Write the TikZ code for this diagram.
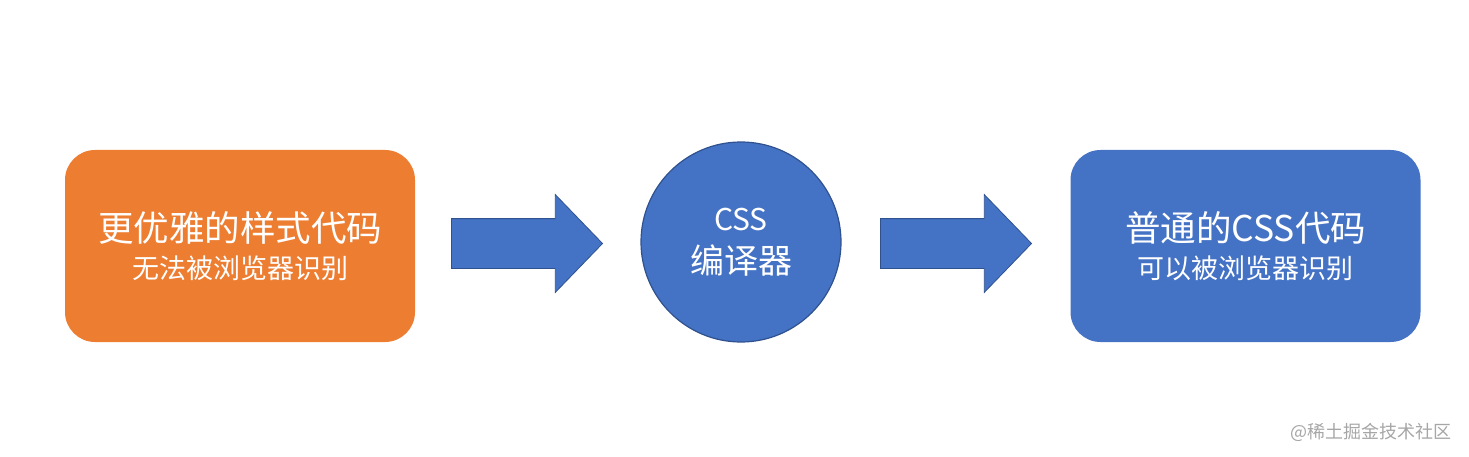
\documentclass[tikz,border=0pt]{standalone}
\usepackage{fontspec}
\setmainfont{Noto Sans CJK SC}
\usepackage{xcolor}
\usetikzlibrary{shapes,arrows,positioning,calc}
\definecolor{boxorange}{HTML}{ED7D31}
\definecolor{boxblue}{HTML}{4472C4}
\definecolor{edgeblue}{HTML}{2F528F}
\definecolor{markgray}{HTML}{A6A6A6}

\begin{document}
\begin{tikzpicture}[
    x=1pt, y=-1pt,
    codebox/.style={rectangle, rounded corners=30pt, minimum width=350pt, minimum height=192pt, align=center, text=white, inner sep=0pt, font=\fontsize{27}{37}\selectfont},
    compiler/.style={circle, draw=edgeblue, line width=1.2pt, fill=boxblue, minimum size=200pt, align=center, text=white, inner sep=0pt, font=\fontsize{34}{43}\selectfont},
    flow/.style={single arrow, draw=edgeblue, line width=0.8pt, fill=boxblue, minimum height=151pt, inner xsep=0pt, inner ysep=24.5pt, single arrow head extend=24pt, single arrow tip angle=92}
]
\useasboundingbox (0,0) rectangle (1469,457);
\node[codebox, fill=boxorange] (src) at (240,246) {{\fontsize{35.5}{37}\selectfont 更优雅的样式代码}\\无法被浏览器识别};
\node[compiler] (comp) at (741,242) {{\fontsize{30}{43}\selectfont CSS}\\编译器};
\node[codebox, fill=boxblue] (out) at (1245.5,246) {{\fontsize{35.5}{37}\selectfont 普通的CSS代码}\\可以被浏览器识别};
\node[flow] (in) at (515,243.5) {};
\node[flow] (emit) at (944,243.5) {};
\node[anchor=east, text=markgray, font=\fontsize{18}{20}\selectfont] (mark) at (1455,432) {@稀土掘金技术社区};
\end{tikzpicture}
\end{document}
